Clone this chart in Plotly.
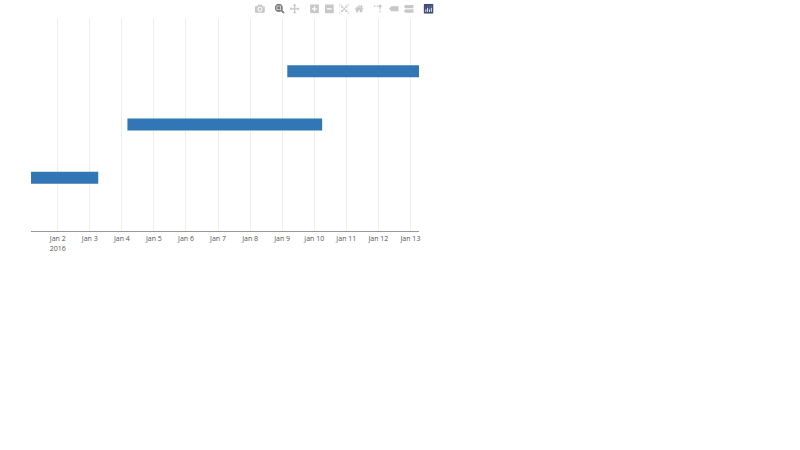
"""
Gantt-style timeline of three tasks (Plotly horizontal bars on a date axis)
"""

import pandas as pd
import plotly.graph_objects as go

# Task data
task_names = ['Task A', 'Task B', 'Task C']
task_starts = ['2016-01-01 04:00', '2016-01-04 04:10', '2016-01-09 03:50']
task_finishes = ['2016-01-03 06:20', '2016-01-10 05:55', '2016-01-13 06:25']

BAR_COLOR = '#3277b5'

starts = pd.to_datetime(task_starts)
finishes = pd.to_datetime(task_finishes)
durations_ms = [(f - s).total_seconds() * 1000 for s, f in zip(starts, finishes)]

fig = go.Figure(go.Bar(
    y=list(range(len(task_names))),
    x=durations_ms,
    base=task_starts,
    orientation='h',
    width=0.23,
    marker=dict(color=BAR_COLOR, line=dict(width=0)),
    hovertext=task_names,
    showlegend=False,
))

fig.update_layout(
    width=438,
    height=270,
    margin=dict(l=31, r=19, t=18, b=39),
    paper_bgcolor='white',
    plot_bgcolor='white',
    font=dict(family='Open Sans', size=7, color='#555'),
    modebar=dict(
        remove=['select2d', 'lasso2d'],
        add=['togglespikelines', 'hoverclosest', 'hovercompare'],
    ),
    hovermode=False,
    dragmode='zoom',
)

fig.update_xaxes(
    type='date',
    range=[starts.min(), finishes.max()],
    dtick=86400000,
    tick0='2016-01-02',
    showgrid=True,
    gridcolor='#eeeeee',
    gridwidth=1,
    showline=True,
    linecolor='#999999',
    linewidth=1,
    ticks='',
    ticklabelstandoff=1,
    zeroline=False,
)

fig.update_yaxes(
    range=[-1, len(task_names)],
    showticklabels=False,
    showgrid=False,
    zeroline=False,
    showline=False,
)

# page has no body margin and a smaller toolbar, like the reference page
page_css = """
var s = document.createElement('style');
s.innerHTML = 'body{margin:0;} .modebar{transform:scale(0.62);transform-origin:top right;}'
    + ' .modebar-btn--logo rect{fill:#3d4f74 !important;}';
document.head.appendChild(s);
"""

fig.write_html('out.html', config={'displayModeBar': True}, post_script=page_css)
